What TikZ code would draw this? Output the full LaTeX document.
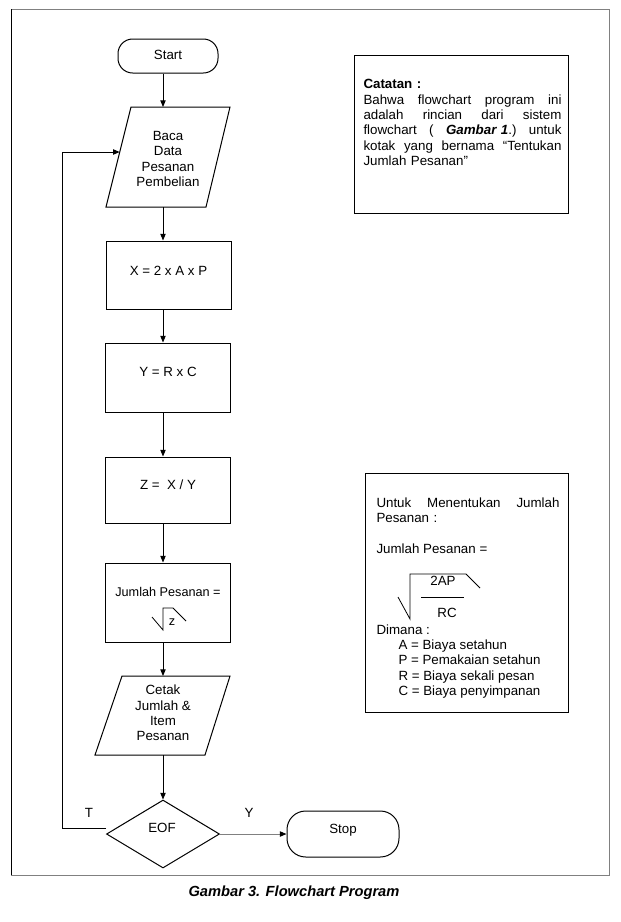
\documentclass[tikz,border=0pt]{standalone}
\usepackage{fontspec}
\setmainfont{Liberation Sans}
\usetikzlibrary{shapes.geometric,arrows.meta}
\begin{document}
\begin{tikzpicture}[x=0.75pt,y=-0.75pt,line width=0.75pt,
  every node/.style={font=\fontsize{10}{11.5}\selectfont},
  arr/.style={-{Triangle[length=5pt,width=4pt]}},
  term/.style={draw,rectangle,inner sep=0pt},
  procbox/.style={draw,rectangle,inner sep=0pt,minimum width=93.75pt},
  decbox/.style={draw,diamond,inner sep=0pt},
  txt/.style={inner sep=0pt,align=center},
  notebox/.style={draw,rectangle,inner sep=0pt}]
\useasboundingbox (0,0) rectangle (621,922);
\fill[white] (0,0) rectangle (621,922);
% outer frame
\draw[gray] (11,9) -- (609,9) -- (609,875) -- (11,875);
\draw[black] (11,9) -- (11,875);
\coordinate (ax) at (163,0);
% terminals
\node[term,minimum width=75pt,minimum height=25.5pt,rounded corners=11pt] (start) at (168,56) {};
\node[txt] (startt) at (168,55) {Start};
% input parallelogram
\draw (131,107) -- (230,107) -- (206,207) -- (106,207) -- cycle;
\coordinate (bacaN) at (180,107);
\coordinate (bacaS) at (156,207);
\coordinate (bacaW) at (119.75,152);
\node[txt] (bacat) at (168,159) {Baca\\Data\\Pesanan\\Pembelian};
% processes
\node[procbox,minimum height=51pt] (px) at (168.5,275) {};
\node[txt] (pxt) at (168.5,271) {X = 2 x A x P};
\node[procbox,minimum height=51.75pt] (py) at (168,377.5) {};
\node[txt] (pyt) at (168,372) {Y = R x C};
\node[procbox,minimum height=49.5pt] (pz) at (168,490) {};
\node[txt] (pzt) at (168,485) {Z =\ \ X / Y};
\node[procbox,minimum height=59.25pt] (pj) at (168,602.5) {};
\node[txt,font=\fontsize{9.5}{11}\selectfont] (pjt) at (168,592) {Jumlah Pesanan =};
\node[txt,font=\fontsize{9.5}{11}\selectfont] (pjz) at (172,622) {z};
\draw[line width=0.6pt] (152,617) -- (163,630) -- (163,608) -- (173,608) -- (186,621);
% output parallelogram
\draw (122,676) -- (230,676) -- (205,755) -- (95,755) -- cycle;
\coordinate (cetakN) at (176,676);
\coordinate (cetakS) at (150,755);
\node[txt] (cetakt) at (163,713) {Cetak\\Jumlah \&\\Item\\Pesanan};
% decision
\node[decbox,minimum width=84.75pt,minimum height=51pt,aspect=1.66] (eof) at (163,834) {};
\node[txt] (eoft) at (162,828) {EOF};
% stop
\node[term,minimum width=84pt,minimum height=34.5pt,rounded corners=14pt] (stop) at (343,834) {};
\node[txt] (stopt) at (343,830) {Stop};
% arrows
\draw[arr] (start.south -| ax) -- (bacaN -| ax);
\draw[arr] (bacaS -| ax) -- (px.north -| ax);
\draw[arr] (px.south -| ax) -- (py.north -| ax);
\draw[arr] (py.south -| ax) -- (pz.north -| ax);
\draw[arr] (pz.south -| ax) -- (pj.north -| ax);
\draw[arr] (pj.south -| ax) -- (cetakN -| ax);
\draw[arr] (cetakS -| ax) -- (eof.north);
\coordinate (loopl) at (62,828);
\draw[arr] ([yshift=4.5pt]eof.west) -- (loopl) |- (bacaW);
\draw[gray,-{Triangle[length=5pt,width=4pt,black]}] (eof.east) -- (stop.west);
\node[txt] (tl) at (89,813) {T};
\node[txt] (yl) at (249,813) {Y};
% note 1
\node[notebox,minimum width=160.5pt,minimum height=118.5pt] (note1) at (461,134) {};
\node[inner sep=0pt,anchor=north west,text width=148.5pt,align=left] (note1t) at (363,79)
{\textbf{Catatan :}\\
\makebox[148.5pt]{Bahwa\hfill flowchart\hfill program\hfill ini}\\
\makebox[148.5pt]{adalah\hfill rincian\hfill dari\hfill sistem}\\
\makebox[148.5pt]{flowchart\hfill (\hfill\textbf{\textit{Gambar 1}}.)\hfill untuk}\\
\makebox[148.5pt]{kotak\hfill yang\hfill bernama\hfill “Tentukan}\\
Jumlah Pesanan”};
% note 2
\node[notebox,minimum width=152.25pt,minimum height=179.25pt] (note2) at (466.5,592.5) {};
\node[inner sep=0pt,anchor=north west,text width=137.25pt,align=left] (note2a) at (376,497)
{\makebox[137.25pt]{Untuk\hfill Menentukan\hfill Jumlah}\\
Pesanan :};
\node[inner sep=0pt,anchor=north west,align=left] (note2b) at (376,543) {Jumlah Pesanan =};
\node[txt] (n2ap) at (443,581) {2AP};
\node[txt] (n2rc) at (447,613) {RC};
\draw (421,597) -- (464,597);
\draw[line width=0.6pt] (398,597) -- (410,619) -- (410,574) -- (466,574) -- (480,588);
\node[inner sep=0pt,anchor=north west,align=left] (note2c) at (376,624)
{Dimana :\\
\hspace*{16.5pt}A = Biaya setahun\\
\hspace*{16.5pt}P = Pemakaian setahun\\
\hspace*{16.5pt}R = Biaya sekali pesan\\
\hspace*{16.5pt}C = Biaya penyimpanan};
% caption
\node[txt,font=\fontsize{11}{13}\selectfont\bfseries\itshape] (cap) at (294,893) {Gambar 3. Flowchart Program};
\end{tikzpicture}
\end{document}
